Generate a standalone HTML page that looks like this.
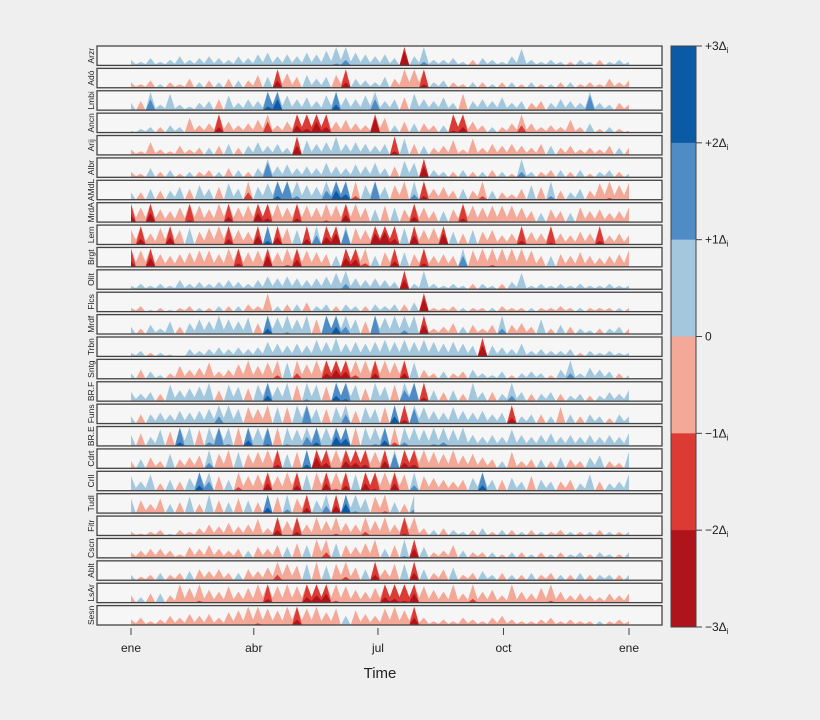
<!DOCTYPE html>
<html><head><meta charset="utf-8">
<style>
html,body{margin:0;padding:0;background:#efefef;}
svg{display:block;font-family:"Liberation Sans",sans-serif;}
</style></head>
<body>
<svg id="chart" width="820" height="720" viewBox="0 0 820 720" xmlns="http://www.w3.org/2000/svg">
<rect x="0" y="0" width="820" height="720" fill="#efefef"/>
<g id="panels"></g>
<g id="xaxis"></g>
<g id="cbar"></g>
<text x="380" y="678" font-size="15" text-anchor="middle" fill="#222">Time</text>
</svg>
<script>
const seriesNames = ["Arzr","Adó","Lmbi","Ancn","Arij","Albr","AMdL","MrdA","Lern","Brgt","Olit","Flcs","Mrdf","Trbn","Sntg","BR.F","Funs","BR.E","Cdrt","Crll","Tudl","Fitr","Cscn","Ablt","LsAr","Sesn"];
const xTickLabels = ["ene","abr","jul","oct","ene"];
const xTickDays = [0,90,181,273,365];
const keyLabels = ["+3","+2","+1","0","\u22121","\u22122","\u22123"];
const N = null;
const sArzr=[0.3,0.2,0.4,0.2,0.3,0.5,0.3,0.4,0.5,0.4,0.3,0.5,0.4,0.6,0.7,0.5,0.6,0.5,0.7,0.6,0.8,1.1,1.3,0.7,0.6,0.5,0.6,0.4,-2.8,0.5,1.2,0.3,0.3,0.4,0.2,-0.3,0.4,0.3,0.2,0.5,0.9,0.3,0.2,0.3,0.2,-0.2,0.3,0.2,-0.3,0.2,0.3,0.2];
const sAdo=[-0.3,-0.2,-0.4,0.2,-0.3,-0.2,-0.5,0.3,-0.4,0.3,-0.5,0.4,-0.4,-0.7,0.6,-2.4,-0.8,-0.6,0.7,0.5,0.6,-0.7,-2.3,0.5,0.4,0.3,0.6,-0.5,-1.0,-1.0,-2.2,0.3,0.4,-0.3,-0.2,0.3,-0.3,0.2,-0.3,0.3,-0.2,0.3,-0.2,0.2,-0.3,0.3,-0.2,-0.3,-0.2,-0.5,-0.3,-0.4];
const sLmbi=[0.4,-0.5,1.6,0.3,0.9,0.3,0.2,0.4,0.5,-0.6,0.8,0.4,0.6,0.5,2.2,2.6,0.8,0.6,0.7,0.5,0.8,2.3,0.7,0.6,0.8,1.6,0.5,0.6,-0.7,0.9,0.6,0.5,0.7,0.4,-0.9,0.5,0.6,0.5,0.7,0.4,0.5,-0.4,-0.5,0.4,0.6,0.5,0.4,1.8,0.4,0.3,-0.4,-0.3];
const sAncn=[0.1,0.2,0.3,-0.3,0.4,0.3,-0.8,-0.4,-0.5,-2.3,-0.6,-0.4,-0.5,-0.7,-1.6,-0.4,-0.6,-2.4,-2.2,-2.6,-2.3,-0.6,-0.7,-0.5,-0.4,-2.8,-0.8,0.4,-0.6,0.5,-0.5,-0.4,0.4,-2.1,-2.3,-0.6,-0.4,0.3,-0.3,-0.5,-1.4,-0.5,-0.3,-0.4,-0.3,-0.7,-0.3,0.5,-0.2,0.3,-0.2,-0.1];
const sArij=[-0.3,-0.2,-0.7,-0.3,-0.2,-0.5,-0.3,-0.4,0.4,-0.5,0.6,-0.4,0.5,0.7,0.5,0.6,0.4,-2.5,0.8,0.6,0.7,1.0,0.6,0.7,0.6,0.5,0.6,-2.2,0.9,-0.6,0.5,-0.4,-0.5,-0.8,-0.3,-0.9,-0.4,-0.6,-0.5,-0.6,-0.5,-0.4,-0.6,0.5,-0.4,-0.5,-0.3,-0.4,-0.3,-0.5,0.4,-0.4];
const sAlbr=[-0.3,-0.2,0.5,-0.3,0.4,-0.2,0.3,-0.3,-0.4,0.3,-0.5,0.4,-0.3,0.5,1.8,0.6,0.7,0.5,0.6,0.5,0.8,0.6,0.5,0.7,0.6,0.8,0.5,-0.6,0.9,0.8,-2.6,0.4,0.3,-0.3,0.4,-0.3,0.3,-0.4,0.3,-0.2,1.3,0.3,-0.3,-0.4,0.4,-0.3,0.4,-0.2,0.3,0.4,-0.3,0.2];
const sAMdL=[0.4,-0.4,0.6,-0.5,0.5,0.7,-0.6,0.8,0.6,-0.7,0.9,0.6,-1.4,0.7,0.9,2.2,2.0,1.2,0.8,0.7,1.5,2.5,2.3,-1.2,0.8,2.0,0.7,-0.8,-1.0,1.3,-2.2,-0.6,-0.7,-0.5,0.6,-0.5,-1.2,0.5,-0.4,-0.3,-0.6,0.8,-0.7,1.2,-0.5,0.4,0.6,-0.5,-0.9,-1.1,-0.8,-0.9];
const sMrdA=[-2.4,-0.8,-2.5,-0.7,-0.6,-0.8,-2.1,-0.9,-0.7,-1.0,-2.3,-0.8,-0.9,-2.5,-2.2,-1.0,-0.8,-2.2,-0.9,-0.8,-1.1,-0.9,-2.4,-1.0,-0.8,0.7,-0.9,0.8,-0.7,-2.3,-0.8,-0.6,0.6,-0.7,-2.2,-0.9,-0.8,-0.9,-0.9,-0.9,-0.8,-0.6,0.5,-0.7,-0.6,0.5,-0.8,-0.6,-0.7,-0.5,-0.6,-0.8];
const sLern=[-0.8,-2.3,-0.6,-0.9,-2.4,-0.8,0.9,-0.7,-0.9,-1.0,-2.3,-0.8,-0.7,-2.5,2.2,-2.4,-0.9,0.8,-2.3,1.5,-2.4,-2.6,1.8,-0.9,-0.8,-2.6,-2.7,-2.3,0.9,-2.5,-0.8,-0.9,-2.6,0.7,-0.6,0.8,-0.7,-0.8,-0.5,-0.6,-2.2,-0.7,-0.6,-2.1,-0.6,-0.5,-0.7,-0.6,-2.2,-0.5,-0.6,-0.5];
const sBrgt=[-2.3,-0.9,-2.5,-0.7,-0.6,-0.7,-0.8,-0.9,-0.9,-0.7,-1.0,-2.2,-0.8,-0.9,-2.6,-0.8,-1.1,-2.4,-0.9,-0.8,-0.7,0.6,-2.5,-2.4,-1.2,0.6,-0.8,-2.3,0.8,-0.7,-2.2,-0.6,-0.7,-0.6,1.6,-0.9,-1.0,-1.1,-1.0,-1.0,-1.0,-0.9,-0.6,0.6,-0.7,-0.6,-0.8,-0.6,-0.5,-0.6,-0.7,-0.9];
const sOlit=[0.2,0.3,0.2,0.3,0.2,0.5,0.3,0.4,0.3,0.4,0.5,0.4,0.3,0.5,0.7,0.6,0.7,0.6,0.5,0.6,0.7,0.9,1.3,0.6,0.5,0.6,0.5,0.4,-2.5,0.3,1.0,0.3,0.2,0.3,0.2,-0.3,0.3,0.2,-0.3,0.4,0.9,0.2,0.3,0.2,0.3,0.2,0.3,0.2,0.2,0.3,0.2,0.2];
const sFlcs=[-0.2,-0.3,0.1,-0.2,0.1,-0.2,-0.3,0.2,-0.2,0.3,-0.3,0.3,-0.4,-0.3,-1.0,0.3,-0.4,0.4,-0.5,0.3,0.4,-0.3,0.4,0.3,-0.3,0.4,0.3,0.4,-0.4,0.5,-2.7,-0.2,-0.2,-0.3,0.2,-0.2,-0.2,0.2,-0.3,-0.2,-0.2,0.2,-0.2,-0.2,-0.3,-0.2,0.2,-0.2,-0.2,-0.2,0.2,-0.2];
const sMrdf=[0.4,-0.3,0.5,0.3,0.7,-0.4,0.6,0.8,0.7,1.0,0.8,0.7,0.9,-0.6,2.3,0.9,1.1,0.8,1.0,-0.8,2.0,2.4,1.4,0.8,-0.7,2.0,0.9,1.0,1.2,1.0,-2.5,-0.3,-0.4,-0.6,0.4,-0.5,-0.3,-0.5,1.3,-0.5,-0.6,-0.4,0.8,-0.3,0.5,-0.4,0.3,0.2,-0.3,0.3,0.4,-0.3];
const sTrbn=[0.2,0.3,-0.2,0.2,0.1,0.0,0.4,0.3,0.4,0.5,0.4,0.5,0.4,0.5,0.8,0.7,0.6,0.7,0.6,0.9,0.8,1.0,0.7,0.8,0.7,0.8,0.9,0.8,0.9,0.8,0.9,0.8,0.7,0.8,0.7,0.6,-2.6,0.6,0.5,0.4,0.7,0.3,0.4,0.3,0.3,0.4,-0.2,0.3,0.2,0.3,0.2,0.2];
const sSntg=[0.3,-0.5,0.4,0.2,-0.3,-0.7,-0.5,-0.6,-0.9,-0.4,-0.5,-0.8,-1.0,-0.7,-0.9,-1.2,0.9,-1.3,-0.8,-1.0,-2.3,-2.5,-2.4,-1.2,-1.0,-2.3,-1.0,-0.9,-2.3,0.9,-0.5,-0.3,0.4,-0.3,-0.4,0.5,0.3,0.2,0.4,-0.2,0.3,0.4,0.3,-0.2,0.5,1.3,0.3,0.6,0.5,0.4,-0.3,0.2];
const sBRF=[0.5,0.4,0.5,-0.4,0.9,0.6,0.7,0.8,1.0,-0.6,0.9,0.8,-0.7,0.9,2.3,0.8,1.0,-0.9,1.1,0.9,-0.8,2.3,2.1,0.9,-0.7,1.0,0.8,-0.9,1.6,2.0,-2.2,0.6,-0.5,0.6,-0.4,1.0,0.5,-0.5,0.4,1.3,0.5,-0.4,0.4,0.5,-0.4,0.3,0.4,-0.3,0.3,0.5,0.4,0.6];
const sFuns=[0.4,-0.5,0.5,0.6,0.5,0.7,0.6,0.7,0.8,1.4,1.0,0.8,-0.9,-0.8,-1.0,0.9,-0.9,1.0,2.0,0.8,-0.8,0.9,1.5,-0.7,0.9,0.8,-0.9,2.4,-2.2,1.8,0.9,0.7,0.6,0.9,0.7,0.6,0.7,0.5,0.6,-2.3,0.4,0.5,-0.5,0.4,-0.9,0.5,-0.4,0.5,0.4,-0.3,0.5,0.4];
const sBRE=[0.6,-0.7,0.5,0.9,-0.8,2.2,1.0,-0.9,1.2,2.0,1.1,-1.0,2.3,1.0,2.1,-1.0,1.1,0.9,1.5,2.2,1.0,2.5,2.4,-1.0,1.0,1.1,2.3,-1.2,1.2,1.0,0.9,1.1,1.2,0.9,1.0,0.6,0.5,0.6,0.5,0.9,0.6,0.5,0.6,0.7,0.5,0.6,0.5,0.6,0.5,0.6,0.5,0.7];
const sCdrt=[-0.4,0.5,-0.6,-0.4,0.8,-0.5,-0.6,-0.7,1.3,-0.8,-1.0,0.9,-0.8,-0.9,-1.0,-2.2,0.8,-0.9,2.2,-2.6,-2.3,-1.0,-2.4,-2.3,-2.2,-0.9,-2.4,1.8,-2.3,-2.2,-1.0,-0.9,-0.8,-1.0,-0.7,-0.8,-0.6,-0.5,0.4,-0.9,-0.4,-0.5,0.5,-0.4,0.6,-0.5,-0.4,0.6,0.7,-0.4,-0.3,0.9];
const sCrll=[0.8,0.5,0.9,-0.4,0.6,-0.5,0.7,2.3,1.5,-0.8,0.6,-1.2,-0.8,-0.9,-2.4,-0.8,-1.0,-2.3,0.9,-1.0,-2.4,-1.1,-2.3,0.9,-2.4,-2.1,-1.0,-2.4,-0.9,1.3,-0.8,-0.7,-0.6,-0.5,-0.6,0.7,2.3,0.6,-0.6,0.7,0.5,-0.8,0.6,0.5,-0.5,-0.6,0.4,0.9,-0.5,0.4,0.5,0.9];
const sTudl=[0.8,-0.7,-0.5,-0.8,0.5,-0.6,0.9,-0.5,1.0,-0.7,0.6,-0.8,0.7,-0.6,2.3,-0.9,1.2,-0.8,-2.3,0.7,1.4,-2.4,2.5,1.1,0.8,-0.9,-1.1,0.6,-0.5,1.2,N,N,N,N,N,N,N,N,N,N,N,N,N,N,N,N,N,N,N,N,N,N];
const sFitr=[-0.2,-0.1,-0.2,-0.3,0.1,-0.3,-0.2,-0.4,-0.6,-0.5,-0.7,-0.5,-0.6,-0.9,-0.4,-2.3,-0.8,-2.2,-0.6,-1.0,-0.8,-1.1,-0.7,-0.6,-1.2,-0.8,-1.0,-0.6,-2.1,-1.0,-0.4,0.3,-0.4,0.3,0.2,-0.3,0.4,-0.2,0.3,-0.3,0.2,-0.3,0.2,-0.2,-0.3,0.2,-0.2,0.2,-0.3,0.2,-0.2,0.2];
const sCscn=[-0.3,-0.4,-0.5,-0.5,-0.4,-0.2,-0.6,-0.5,-0.7,-0.5,-0.4,-0.5,0.4,-0.6,-0.5,-0.7,0.6,-0.8,0.7,-1.0,-1.3,0.8,-0.7,-0.6,-0.8,-1.0,0.5,-0.7,1.1,-2.5,0.6,-0.3,-0.4,-0.7,0.4,-0.3,-0.3,0.3,-0.2,0.3,-0.3,0.2,-0.3,0.2,-0.3,0.2,0.3,-0.2,0.3,0.2,-0.2,0.3];
const sAblt=[0.3,-0.2,-0.3,0.4,-0.3,-0.4,0.5,-0.6,-0.5,-0.6,-0.4,0.4,-0.6,-0.5,-0.7,-1.3,-0.9,-0.8,0.9,-1.0,0.8,-0.9,-1.2,-0.7,0.6,-2.3,-0.6,-0.9,0.9,-2.4,0.6,-0.4,-0.6,0.7,-0.3,-0.4,0.5,0.3,-0.4,0.3,-0.3,0.4,-0.3,-0.4,0.3,-0.3,0.4,-0.3,0.3,0.3,-0.3,0.3];
const sLsAr=[-0.4,0.3,-0.5,0.5,-0.4,-1.0,-0.8,-1.1,-0.7,-0.6,-0.9,-0.6,-0.8,-1.0,-2.2,-0.9,-1.0,-0.9,-2.3,-2.4,-2.5,-1.1,-0.9,-0.7,-0.6,-0.8,-2.3,-2.2,-2.1,-2.5,-0.9,-0.7,-0.6,-1.0,-0.5,-1.2,-0.6,-0.7,-0.4,-1.0,-0.6,-0.5,-0.8,-1.1,-0.6,-0.4,-0.5,-0.4,-0.3,-0.5,-0.4,-0.5];
const sSesn=[-0.3,-0.4,-0.2,-0.3,-0.5,-0.4,-0.6,-0.5,-0.6,-0.4,-0.7,-0.8,-1.0,-1.1,-0.9,-0.8,-1.0,-2.3,-0.9,-1.0,-0.7,-0.9,0.5,-0.8,-0.6,-0.5,-0.9,-1.0,-0.8,-2.4,-0.4,-0.2,-0.3,-0.2,-0.4,-0.3,-0.2,-0.4,-0.5,-0.3,-0.2,-0.2,-0.3,-0.4,-0.2,-0.3,-0.2,-0.2,0.2,-0.2,-0.3,-0.2];
const seriesValues=[sArzr,sAdo,sLmbi,sAncn,sArij,sAlbr,sAMdL,sMrdA,sLern,sBrgt,sOlit,sFlcs,sMrdf,sTrbn,sSntg,sBRF,sFuns,sBRE,sCdrt,sCrll,sTudl,sFitr,sCscn,sAblt,sLsAr,sSesn];

const NS="http://www.w3.org/2000/svg";
const PX0=97,PX1=662,TOP=46,BOT=628;
const DX0=131,DX1=629;
const xScale=d=>DX0+d/365*(DX1-DX0);
const rowH=(BOT-TOP)/seriesNames.length;
const panelH=rowH-3;
const posCols=["#a3c8de","#4f8cc6","#0a5aa6"];
const negCols=["#f4a898","#dc3a34","#b0141b"];
function mk(tag,attrs,parent){const e=document.createElementNS(NS,tag);for(const k in attrs)e.setAttribute(k,attrs[k]);parent.appendChild(e);return e;}
const panels=document.getElementById('panels');
seriesNames.forEach((name,r)=>{
  const y0=TOP+r*rowH, base=y0+panelH;
  const g=mk('g',{},panels);
  
  
  const bg=mk('rect',{x:PX0,y:y0,width:PX1-PX0,height:panelH,fill:'#f6f6f6'},g);
  
  
  const vals=seriesValues[r];
  const n=vals.length;
  const xv=i=>xScale(i*365/(n-1));
  [1,-1].forEach(sign=>{
    for(let k=0;k<3;k++){
      const hOf=v=>Math.max(0,Math.min(1,sign*v-k))*(panelH-1);
      let segs=[],cur=null;
      for(let i=0;i<n;i++){
        const v=vals[i];
        if(v===null){if(cur){segs.push(cur);cur=null;}continue;}
        if(!cur)cur=[];
        const h=hOf(v);
        cur.push([xv(i),base-h]);
        if(i<n-1&&vals[i+1]!==null){
          const h2=hOf(vals[i+1]);
          const hm=0.3*Math.min(h,h2);
          cur.push([(xv(i)+xv(i+1))/2,base-hm]);
        }
      }
      if(cur)segs.push(cur);
      segs.forEach(s=>{
        let d='M'+s[0][0].toFixed(1)+','+base;
        s.forEach(p=>d+='L'+p[0].toFixed(1)+','+p[1].toFixed(1));
        d+='L'+s[s.length-1][0].toFixed(1)+','+base+'Z';
        const p=mk('path',{d:d,fill:sign>0?posCols[k]:negCols[k]},g);
        
        
      });
    }
  });
  const bd=mk('rect',{x:PX0,y:y0,width:PX1-PX0,height:panelH,fill:'none',stroke:'#444','stroke-width':1.3},g);
  
  
  const t=mk('text',{x:0,y:0,'font-size':8.5,'text-anchor':'middle',fill:'#222',transform:'translate(94,'+(y0+panelH/2)+') rotate(-90)'},g);
  t.textContent=name;
  
  
});
const xa=document.getElementById('xaxis');
xTickLabels.forEach((lab,i)=>{
  const x=xScale(xTickDays[i]);
  const l=mk('line',{x1:x,x2:x,y1:BOT,y2:BOT+7,stroke:'#444','stroke-width':1},xa);
  
  
  const t=mk('text',{x:x,y:BOT+24,'font-size':12,'text-anchor':'middle',fill:'#222'},xa);
  t.textContent=lab;
  
  
});
const cb=document.getElementById('cbar');
const CX=671,CW=25,CT=46,CB=627,seg=(CB-CT)/6;
const keyCols=[posCols[2],posCols[1],posCols[0],negCols[0],negCols[1],negCols[2]];
keyCols.forEach((c,i)=>{
  const r=mk('rect',{x:CX,y:CT+i*seg,width:CW,height:seg+0.5,fill:c},cb);
  
  
});
const cbb=mk('rect',{x:CX,y:CT,width:CW,height:CB-CT,fill:'none',stroke:'#444','stroke-width':1},cb);


keyLabels.forEach((lab,i)=>{
  const y=CT+i*seg;
  const l=mk('line',{x1:CX+CW,x2:CX+CW+6,y1:y,y2:y,stroke:'#444','stroke-width':1},cb);
  
  
  const t=mk('text',{x:CX+CW+9,y:y+4,'font-size':12,fill:'#222'},cb);
  
  
  if(lab==='0'){t.textContent='0';}
  else{
    t.textContent=lab+'\u0394';
    const s=mk('tspan',{'font-size':8,dy:3},t);
    s.textContent='i';
  }
});
</script>
</body></html>
